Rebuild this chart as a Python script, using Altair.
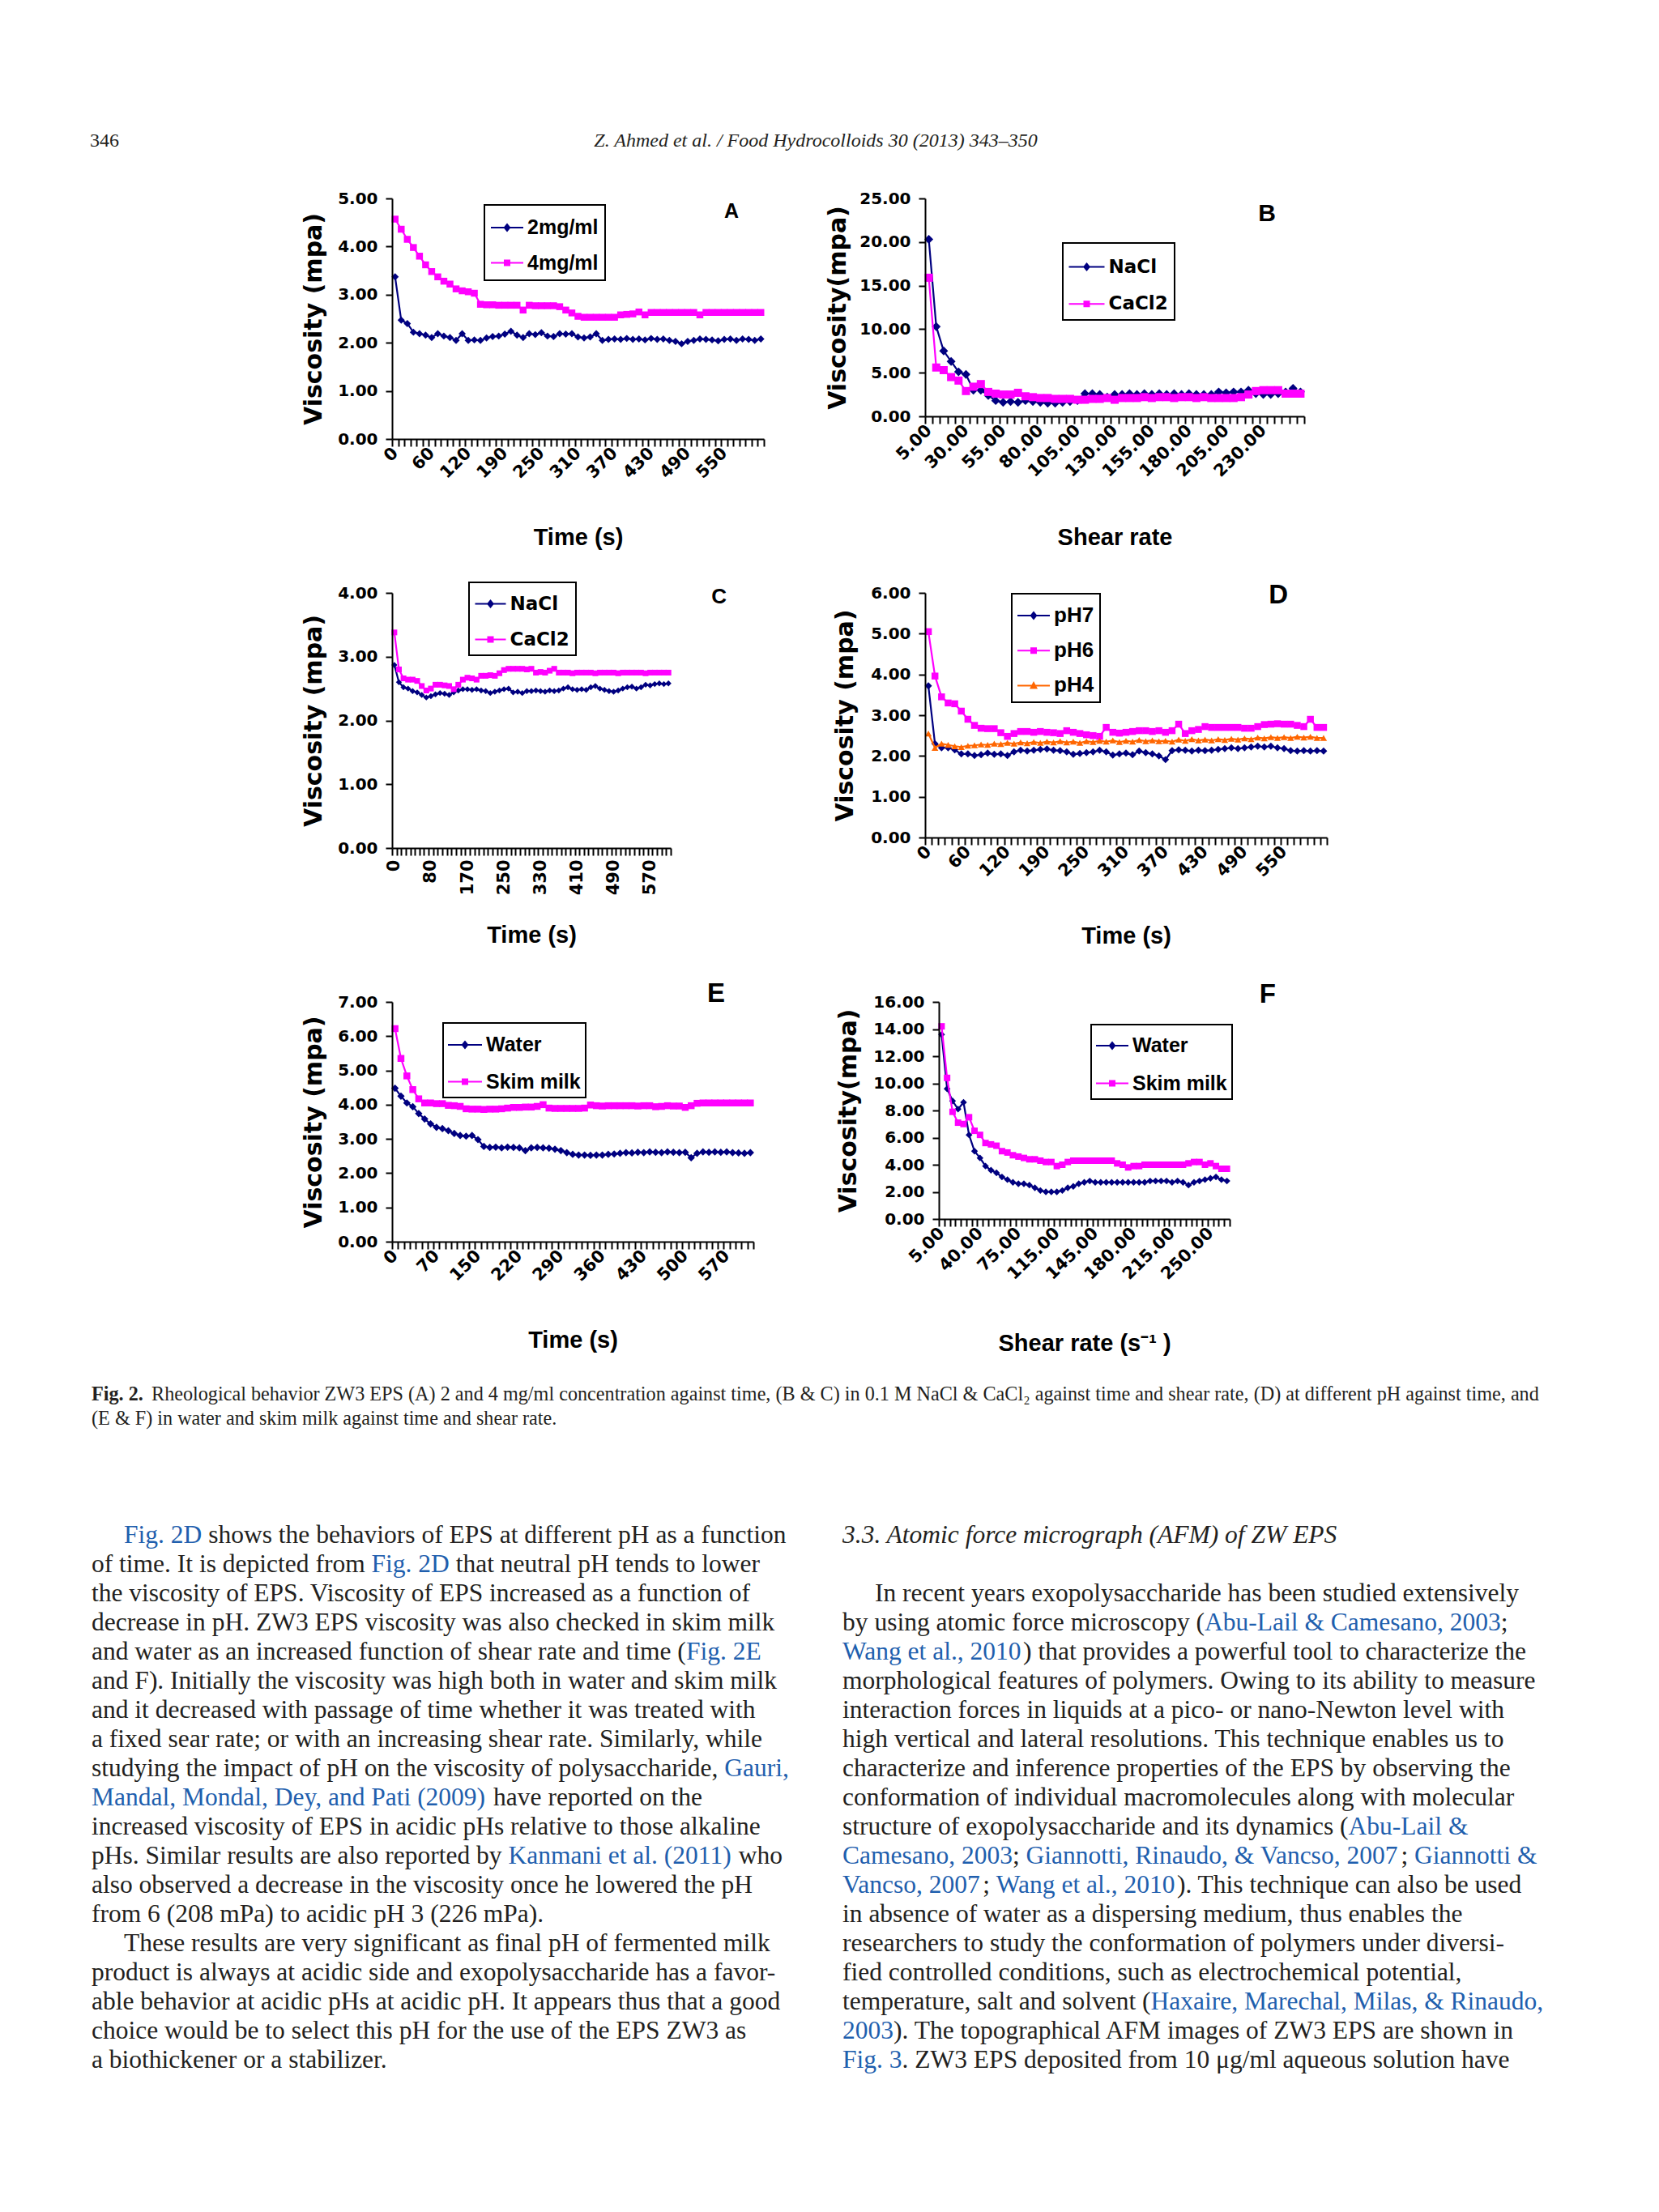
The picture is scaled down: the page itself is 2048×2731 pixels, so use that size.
import altair as alt
import pandas as pd

# ------------------------------------------------------------------ data
A_names = ['2mg/ml', '4mg/ml']
A_2mg = [3.37, 2.47, 2.40, 2.22, 2.19, 2.16, 2.11, 2.19, 2.14, 2.11,
         2.05, 2.19, 2.05, 2.06, 2.05, 2.10, 2.13, 2.14, 2.18, 2.24,
         2.16, 2.11, 2.19, 2.17, 2.21, 2.14, 2.13, 2.19, 2.18, 2.19,
         2.12, 2.10, 2.12, 2.19, 2.05, 2.07, 2.08, 2.07, 2.09, 2.07,
         2.08, 2.06, 2.09, 2.07, 2.08, 2.05, 2.03, 1.98, 2.03, 2.05,
         2.08, 2.07, 2.06, 2.04, 2.07, 2.08, 2.05, 2.08, 2.07, 2.05, 2.08]
A_4mg = [4.57, 4.36, 4.15, 3.98, 3.80, 3.62, 3.48, 3.37, 3.28, 3.22,
         3.12, 3.08, 3.06, 3.03, 2.80, 2.79, 2.79, 2.78, 2.78, 2.78,
         2.78, 2.68, 2.78, 2.77, 2.77, 2.77, 2.77, 2.75, 2.68, 2.62,
         2.55, 2.53, 2.53, 2.53, 2.53, 2.53, 2.53, 2.58, 2.59, 2.60,
         2.64, 2.58, 2.63, 2.63, 2.63, 2.63, 2.63, 2.63, 2.63, 2.63,
         2.58, 2.63, 2.63, 2.63, 2.63, 2.63, 2.63, 2.63, 2.63, 2.63, 2.63]
A_xlabels = ['0', '60', '120', '190', '250', '310', '370', '430', '490', '550']

B_names = ['NaCl', 'CaCl2']
B_nacl = [20.3, 10.3, 7.5, 6.3, 5.1, 4.8, 3.0, 3.0, 2.4, 1.8,
          1.6, 1.7, 1.6, 1.8, 1.7, 1.6, 1.5, 1.5, 1.6, 1.7,
          1.8, 2.6, 2.6, 2.5, 2.2, 2.5, 2.5, 2.6, 2.5, 2.6,
          2.5, 2.6, 2.5, 2.6, 2.5, 2.6, 2.5, 2.5, 2.5, 2.8,
          2.7, 2.8, 2.8, 3.0, 2.6, 2.5, 2.5, 2.6, 2.8, 3.2, 2.8]
B_cacl2 = [15.9, 5.6, 5.3, 4.5, 4.1, 2.9, 3.4, 3.7, 2.8, 2.6,
           2.5, 2.5, 2.7, 2.3, 2.2, 2.1, 2.1, 2.0, 2.0, 2.0,
           1.9, 1.9, 2.0, 2.0, 2.1, 1.9, 2.1, 2.1, 2.1, 2.2,
           2.1, 2.2, 2.2, 2.1, 2.2, 2.2, 2.1, 2.2, 2.1, 2.1,
           2.1, 2.1, 2.2, 2.5, 2.9, 3.0, 3.0, 3.0, 2.6, 2.6, 2.6]
B_xlabels = ['5.00', '30.00', '55.00', '80.00', '105.00', '130.00',
             '155.00', '180.00', '205.00', '230.00']

C_names = ['NaCl', 'CaCl2']
C_nacl = [2.87, 2.60, 2.52, 2.50, 2.46, 2.44, 2.40, 2.36, 2.38, 2.41,
          2.43, 2.42, 2.40, 2.44, 2.47, 2.49, 2.49, 2.48, 2.49, 2.47,
          2.46, 2.43, 2.45, 2.47, 2.49, 2.50, 2.44, 2.45, 2.43, 2.46,
          2.46, 2.47, 2.46, 2.45, 2.47, 2.46, 2.47, 2.50, 2.52, 2.49,
          2.48, 2.49, 2.48, 2.52, 2.54, 2.50, 2.48, 2.46, 2.45, 2.47,
          2.50, 2.52, 2.53, 2.50, 2.52, 2.56, 2.55, 2.57, 2.58, 2.57, 2.58]
C_cacl2 = [3.38, 2.80, 2.66, 2.64, 2.64, 2.62, 2.54, 2.47, 2.50, 2.56,
           2.56, 2.55, 2.54, 2.49, 2.56, 2.64, 2.67, 2.66, 2.64, 2.70,
           2.70, 2.71, 2.70, 2.74, 2.79, 2.81, 2.81, 2.81, 2.81, 2.80,
           2.81, 2.75, 2.76, 2.75, 2.78, 2.81, 2.75, 2.75, 2.75, 2.74,
           2.75, 2.75, 2.75, 2.75, 2.74, 2.75, 2.75, 2.75, 2.75, 2.74,
           2.75, 2.75, 2.75, 2.75, 2.75, 2.74, 2.75, 2.75, 2.75, 2.75, 2.75]
C_xlabels = ['0', '80', '170', '250', '330', '410', '490', '570']

D_names = ['pH7', 'pH6', 'pH4']
D_ph7 = [3.72, 2.30, 2.20, 2.20, 2.15, 2.05, 2.05, 2.01, 2.03, 2.07,
         2.04, 2.05, 2.01, 2.10, 2.14, 2.12, 2.14, 2.16, 2.17, 2.14,
         2.13, 2.10, 2.04, 2.06, 2.08, 2.10, 2.14, 2.10, 2.02, 2.05,
         2.07, 2.03, 2.12, 2.08, 2.05, 2.00, 1.91, 2.13, 2.15, 2.14,
         2.12, 2.14, 2.13, 2.14, 2.16, 2.18, 2.20, 2.18, 2.20, 2.22,
         2.24, 2.22, 2.24, 2.20, 2.18, 2.13, 2.12, 2.13, 2.12, 2.13, 2.12]
D_ph6 = [5.05, 3.96, 3.45, 3.30, 3.28, 3.10, 2.90, 2.75, 2.68, 2.67,
         2.67, 2.57, 2.48, 2.55, 2.60, 2.60, 2.58, 2.60, 2.58, 2.57,
         2.55, 2.62, 2.58, 2.55, 2.52, 2.50, 2.48, 2.70, 2.58, 2.56,
         2.58, 2.60, 2.62, 2.62, 2.60, 2.62, 2.58, 2.62, 2.78, 2.55,
         2.62, 2.65, 2.72, 2.70, 2.70, 2.70, 2.70, 2.70, 2.68, 2.68,
         2.72, 2.77, 2.78, 2.79, 2.78, 2.78, 2.75, 2.72, 2.90, 2.70, 2.70]
D_ph4 = [2.55, 2.20, 2.30, 2.27, 2.24, 2.22, 2.25, 2.26, 2.28, 2.27,
         2.30, 2.29, 2.32, 2.30, 2.33, 2.31, 2.34, 2.32, 2.35, 2.33,
         2.36, 2.33, 2.35, 2.32, 2.36, 2.34, 2.37, 2.35, 2.38, 2.34,
         2.37, 2.35, 2.39, 2.36, 2.38, 2.36, 2.37, 2.35, 2.40, 2.37,
         2.41, 2.38, 2.40, 2.38, 2.41, 2.39, 2.42, 2.40, 2.43, 2.41,
         2.45, 2.43, 2.46, 2.44, 2.46, 2.44, 2.47, 2.45, 2.47, 2.44, 2.44]
D_xlabels = ['0', '60', '120', '190', '250', '310', '370', '430', '490', '550']

E_names = ['Water', 'Skim milk']
E_water = [4.48, 4.25, 4.05, 3.94, 3.74, 3.58, 3.44, 3.34, 3.30, 3.24,
           3.16, 3.10, 3.08, 3.10, 2.98, 2.78, 2.75, 2.76, 2.74, 2.76,
           2.75, 2.74, 2.66, 2.74, 2.75, 2.74, 2.73, 2.70, 2.66, 2.60,
           2.55, 2.53, 2.53, 2.52, 2.53, 2.53, 2.55, 2.56, 2.58, 2.60,
           2.59, 2.61, 2.60, 2.62, 2.61, 2.60, 2.62, 2.61, 2.60, 2.61,
           2.45, 2.58, 2.62, 2.61, 2.62, 2.61, 2.62, 2.60, 2.59, 2.58, 2.60]
E_skim = [6.22, 5.35, 4.84, 4.44, 4.17, 4.05, 4.05, 4.03, 4.03, 3.98,
          3.97, 3.95, 3.88, 3.87, 3.87, 3.86, 3.87, 3.87, 3.88, 3.90,
          3.92, 3.92, 3.93, 3.93, 3.95, 4.00, 3.90, 3.89, 3.89, 3.89,
          3.89, 3.89, 3.90, 3.99, 3.97, 3.96, 3.97, 3.97, 3.97, 3.97,
          3.97, 3.96, 3.97, 3.97, 3.94, 3.95, 3.97, 3.96, 3.96, 3.92,
          3.97, 4.04, 4.05, 4.05, 4.05, 4.05, 4.05, 4.05, 4.05, 4.05, 4.05]
E_xlabels = ['0', '70', '150', '220', '290', '360', '430', '500', '570']

F_names = ['Water', 'Skim milk']
F_water = [13.6, 9.6, 8.7, 8.1, 8.6, 6.2, 5.0, 4.5, 3.9, 3.6,
           3.4, 3.1, 2.9, 2.7, 2.6, 2.6, 2.5, 2.3, 2.1, 2.0,
           2.0, 2.0, 2.1, 2.3, 2.4, 2.6, 2.7, 2.8, 2.7, 2.7,
           2.7, 2.7, 2.7, 2.7, 2.7, 2.7, 2.7, 2.7, 2.8, 2.8,
           2.8, 2.8, 2.7, 2.8, 2.7, 2.5, 2.7, 2.8, 2.9, 3.0,
           3.1, 2.9, 2.8]
F_skim = [14.2, 10.4, 7.9, 7.1, 7.0, 7.5, 6.5, 6.2, 5.6, 5.5,
          5.4, 5.0, 4.9, 4.7, 4.6, 4.5, 4.4, 4.4, 4.3, 4.2,
          4.2, 3.9, 4.0, 4.2, 4.3, 4.3, 4.3, 4.3, 4.3, 4.3,
          4.3, 4.3, 4.1, 4.0, 3.8, 3.9, 3.9, 4.0, 4.0, 4.0,
          4.0, 4.0, 4.0, 4.0, 4.0, 4.1, 4.2, 4.2, 4.0, 4.1,
          3.9, 3.7, 3.7]
F_xlabels = ['5.00', '40.00', '75.00', '115.00', '145.00', '180.00', '215.00', '250.00']

HEADER_PAGE = '346'
HEADER_TITLE = 'Z. Ahmed et al. / Food Hydrocolloids 30 (2013) 343\u2013350'
CAPTION_LABEL = 'Fig. 2.'
CAPTION_LINE1 = ('Rheological behavior ZW3 EPS (A) 2 and 4 mg/ml concentration against time, '
                 '(B & C) in 0.1 M NaCl & CaCl\u2082 against time and shear rate, (D) at different pH against time, and')
CAPTION_LINE2 = '(E & F) in water and skim milk against time and shear rate.'
BODY_LEFT = [
    'Fig. 2D shows the behaviors of EPS at different pH as a function',
    'of time. It is depicted from Fig. 2D that neutral pH tends to lower',
    'the viscosity of EPS. Viscosity of EPS increased as a function of',
    'decrease in pH. ZW3 EPS viscosity was also checked in skim milk',
    'and water as an increased function of shear rate and time (Fig. 2E',
    'and F). Initially the viscosity was high both in water and skim milk',
    'and it decreased with passage of time whether it was treated with',
    'a fixed sear rate; or with an increasing shear rate. Similarly, while',
    'studying the impact of pH on the viscosity of polysaccharide, Gauri,',
    'Mandal, Mondal, Dey, and Pati (2009) have reported on the',
    'increased viscosity of EPS in acidic pHs relative to those alkaline',
    'pHs. Similar results are also reported by Kanmani et al. (2011) who',
    'also observed a decrease in the viscosity once he lowered the pH',
    'from 6 (208 mPa) to acidic pH 3 (226 mPa).',
    'These results are very significant as final pH of fermented milk',
    'product is always at acidic side and exopolysaccharide has a favor-',
    'able behavior at acidic pHs at acidic pH. It appears thus that a good',
    'choice would be to select this pH for the use of the EPS ZW3 as',
    'a biothickener or a stabilizer.',
]
BODY_RIGHT_HEADING = '3.3. Atomic force micrograph (AFM) of ZW EPS'
BODY_RIGHT = [
    'In recent years exopolysaccharide has been studied extensively',
    'by using atomic force microscopy (Abu-Lail & Camesano, 2003;',
    'Wang et al., 2010) that provides a powerful tool to characterize the',
    'morphological features of polymers. Owing to its ability to measure',
    'interaction forces in liquids at a pico- or nano-Newton level with',
    'high vertical and lateral resolutions. This technique enables us to',
    'characterize and inference properties of the EPS by observing the',
    'conformation of individual macromolecules along with molecular',
    'structure of exopolysaccharide and its dynamics (Abu-Lail &',
    'Camesano, 2003; Giannotti, Rinaudo, & Vancso, 2007; Giannotti &',
    'Vancso, 2007; Wang et al., 2010). This technique can also be used',
    'in absence of water as a dispersing medium, thus enables the',
    'researchers to study the conformation of polymers under diversi-',
    'fied controlled conditions, such as electrochemical potential,',
    'temperature, salt and solvent (Haxaire, Marechal, Milas, & Rinaudo,',
    '2003). The topographical AFM images of ZW3 EPS are shown in',
    'Fig. 3. ZW3 EPS deposited from 10 \u03bcg/ml aqueous solution have',
]
# cross-reference links shown in blue: (column, line index, linked words)
LINKS = [
    ('L', 0, 'Fig. 2D'), ('L', 1, 'Fig. 2D'), ('L', 4, 'Fig. 2E'), ('L', 8, 'Gauri,'),
    ('L', 9, 'Mandal, Mondal, Dey, and Pati (2009)'), ('L', 11, 'Kanmani et al. (2011)'),
    ('R', 1, 'Abu-Lail & Camesano, 2003'), ('R', 2, 'Wang et al., 2010'), ('R', 8, 'Abu-Lail &'),
    ('R', 9, 'Camesano, 2003'), ('R', 9, 'Giannotti, Rinaudo, & Vancso, 2007'), ('R', 9, 'Giannotti &'),
    ('R', 10, 'Vancso, 2007'), ('R', 10, 'Wang et al., 2010'),
    ('R', 14, 'Haxaire, Marechal, Milas, & Rinaudo,'), ('R', 15, '2003'), ('R', 16, 'Fig. 3'),
]

# ------------------------------------------------------------------ styling
NAVY = '#000080'
MAG = '#FF00FF'
ORG = '#FF6600'
TXT = '#231f20'
LINKC = '#1f5fae'
ONE = pd.DataFrame({'k': [0]})
AX = dict(domainColor='black', domainWidth=2, tickColor='black', labelColor='black',
          titleColor='black', grid=False, zindex=1, labelFlush=False, labelOverlap=False)

# advance widths (1/1000 em) of the Times-metric serif used for the body text
_W = {' ': 250, '!': 333, '&': 778, "'": 180, '(': 333, ')': 333, ',': 250, '-': 333, '.': 250,
      '/': 278, ':': 278, ';': 278, '?': 444, '\u03bc': 500}
_W.update({c: 500 for c in '0123456789'})
_W.update(dict(zip('abcdefghijklmnopqrstuvwxyz',
                   [444, 500, 444, 500, 444, 333, 500, 500, 278, 278, 500, 278, 778, 500, 500, 500,
                    500, 333, 389, 278, 500, 500, 722, 500, 500, 444])))
_W.update(dict(zip('ABCDEFGHIJKLMNOPQRSTUVWXYZ',
                   [722, 667, 667, 722, 611, 556, 722, 722, 333, 389, 722, 611, 889, 722, 722, 556,
                    722, 667, 556, 611, 722, 722, 944, 722, 722, 611])))


def sym_path(kind, w):
    k = 2.0 / w

    def u(v):
        return f'{v * k:.4f}'
    line = f'M-1,{u(-1)}H1V{u(1)}H-1Z'
    if kind == 'diamond':
        m = f'M0,{u(-5.5)}L{u(4.5)},0L0,{u(5.5)}L{u(-4.5)},0Z'
    elif kind == 'square':
        m = f'M{u(-4)},{u(-4)}H{u(4)}V{u(4)}H{u(-4)}Z'
    else:
        m = f'M0,{u(-5.5)}L{u(5)},{u(4)}H{u(-5)}Z'
    return line + m


SHAPE = {'diamond': 'diamond', 'square': 'square', 'triangle': 'triangle-up'}


def panel(c, first=(), last=()):
    names, vals, N, W, H = c['names'], c['values'], c['N'], c['w'], c['h']
    rows = [{'i': i, 'v': v, 's': n} for n, vs in zip(names, vals) for i, v in enumerate(vs)]
    base = alt.Chart(pd.DataFrame(rows)).transform_calculate(xc='datum.i + 0.5')
    step, labs = c['step'], c['xlabels']
    arr = '[' + ','.join(f"'{l}'" for l in labs) + ']'
    expr = (f"(datum.value % {step} == 0 && datum.value / {step} < {len(labs)}) "
            f"? {arr}[datum.value / {step}] : ''")
    xoff = c.get('xoff', 0)
    cat_w = (W - xoff) / N
    x = alt.X('xc:Q', scale=alt.Scale(domain=[0, N], range=[xoff, W], nice=False, zero=False),
              axis=alt.Axis(values=list(range(N + 1)), labelExpr=expr, labelAngle=c['angle'],
                            labelAlign='right', labelBaseline='middle', labelOffset=cat_w / 2,
                            labelPadding=5, labelFont='DejaVu Sans', labelFontWeight='bold',
                            labelFontSize=21, tickSize=9, tickWidth=2,
                            title=c['xtitle'], titleFont='Liberation Sans', titleFontWeight='bold',
                            titleFontSize=29, titleY=c['xty'], titleBaseline='middle', **AX))
    nt = int(round(c['ymax'] / c['ystep']))
    yvals = [round(k * c['ystep'], 6) for k in range(nt + 1)]
    y = alt.Y('v:Q', scale=alt.Scale(domain=[0, c['ymax']], nice=False, zero=True),
              axis=alt.Axis(values=yvals, format='.2f', labelFont='DejaVu Sans', labelFontWeight='bold',
                            labelFontSize=20, labelPadding=10, tickSize=8, tickWidth=2,
                            title=c['ytitle'], titleFont='DejaVu Sans', titleFontWeight='bold',
                            titleFontSize=30, titleX=c['ytx'], titleBaseline='middle', titleAngle=270,
                            offset=-xoff, **AX))
    layers = list(first)
    for n, col, kind, ms in zip(names, c['colors'], c['kinds'], c['msizes']):
        sub = base.transform_filter(alt.datum.s == n)
        layers.append(sub.mark_line(color=col, strokeWidth=2.2).encode(x=x, y=y))
        layers.append(sub.mark_point(shape=SHAPE[kind], filled=True, size=ms, color=col,
                                     opacity=1).encode(x=x, y=y))
    lw = c['lw']
    paths = [sym_path(k, lw) for k in c['kinds']]
    L = alt.Legend(orient='none', legendX=c['lx'], legendY=c['ly'], title=None,
                   strokeColor='black', fillColor='white', padding=c['lpad'],
                   rowPadding=c['lrow'], symbolSize=lw * lw, symbolStrokeWidth=0,
                   labelFont=c['lfont'], labelFontSize=c['lfs'], labelFontWeight='bold',
                   labelColor='black', labelOffset=5, labelLimit=c.get('llim', 400))
    layers.append(base.transform_filter('false').mark_point(filled=True, size=lw * lw, opacity=1).encode(
        x=x, y=y,
        color=alt.Color('s:N', scale=alt.Scale(domain=names, range=c['colors']), legend=L),
        shape=alt.Shape('s:N', scale=alt.Scale(domain=names, range=paths), legend=L)))
    layers.append(alt.Chart(ONE).mark_text(
        text=c['letter'], align='right', baseline='alphabetic', font='Liberation Sans',
        fontWeight='bold', fontSize=c['letsize'], color='black').encode(
        x=alt.value(c['letx']), y=alt.value(c['lety'])))
    layers += list(last)
    return alt.layer(*layers).properties(width=W, height=H)


def text_mark(txt, x, y, size, style='normal', weight='normal', lh=None, align='left', color=TXT):
    kw = dict(text=txt, align=align, baseline='alphabetic', font='Liberation Serif',
              fontSize=size, fontStyle=style, fontWeight=weight, color=color)
    if lh:
        kw['lineHeight'] = lh
    return alt.Chart(ONE).mark_text(**kw).encode(x=alt.value(x), y=alt.value(y))


# page furniture, positioned relative to panel A's plot origin (page 484, 245)
bg = alt.Chart(ONE).mark_rect(color='white').encode(
    x=alt.value(-476), x2=alt.value(1548), y=alt.value(-237), y2=alt.value(2478))
LH = 35.99
B0 = 1660
BF = 31.5
CF = 24.2


def tw(s):
    return sum(_W.get(ch, 500) for ch in s) * BF / 1000.0


page_text = [
    text_mark(HEADER_PAGE, -373, -64, 24),
    text_mark(HEADER_TITLE, 523, -64, 24, style='italic', align='center'),
    text_mark(CAPTION_LABEL, -371, 1484, CF, weight='bold'),
    text_mark(CAPTION_LINE1, -297, 1484, CF),
    text_mark(CAPTION_LINE2, -371, 1514, CF),
    text_mark(BODY_RIGHT_HEADING, 556, B0, BF, style='italic'),
]


def body_line(col, idx, text):
    if col == 'L':
        x0, y0 = (-331 if idx in (0, 14) else -371), B0 + idx * LH
    else:
        x0, y0 = (596 if idx == 0 else 556), B0 + (idx + 2) * LH
    spans = sorted((text.find(w), text.find(w) + len(w)) for c_, i_, w in LINKS
                   if c_ == col and i_ == idx)
    cuts, pos = [], 0
    for a, b in spans:
        if a > pos:
            cuts.append((pos, a, TXT))
        cuts.append((a, b, LINKC))
        pos = b
    if pos < len(text):
        cuts.append((pos, len(text), TXT))
    out = []
    for a, b, color in cuts:
        seg = text[a:b]
        a2 = a + (len(seg) - len(seg.lstrip()))
        piece = text[a2:b].rstrip()
        if piece:
            out.append(text_mark(piece, x0 + tw(text[:a2]), y0, BF, color=color))
    return out


for i_, t_ in enumerate(BODY_LEFT):
    page_text += body_line('L', i_, t_)
for i_, t_ in enumerate(BODY_RIGHT):
    page_text += body_line('R', i_, t_)

cfgA = dict(names=A_names, values=[A_2mg, A_4mg], N=61, w=459, h=297, step=6, xlabels=A_xlabels,
            angle=315, xtitle='Time (s)', xty=121, ymax=5, ystep=1, ytitle='Viscosity (mpa)', ytx=-97,
            colors=[NAVY, MAG], kinds=['diamond', 'square'], msizes=[80, 72],
            lw=40, lx=114, ly=8, lpad=8, lrow=10.5, lfont='Liberation Sans', lfs=25,
            letter='A', letx=428, lety=24, letsize=25)
cfgB = dict(names=B_names, values=[B_nacl, B_cacl2], N=51, w=468, h=269, step=5, xlabels=B_xlabels,
            angle=315, xtitle='Shear rate', xty=149, ymax=25, ystep=5, ytitle='Viscosity(mpa)', ytx=-108,
            colors=[NAVY, MAG], kinds=['diamond', 'square'], msizes=[120, 100],
            lw=44, lx=170, ly=55, lpad=7.5, lrow=11.8, lfont='DejaVu Sans', lfs=23,
            letter='B', letx=433, lety=28, letsize=30)
cfgC = dict(names=C_names, values=[C_nacl, C_cacl2], N=61, w=344, h=315, step=8, xlabels=C_xlabels,
            angle=270, xtitle='Time (s)', xty=107, ymax=4, ystep=1, ytitle='Viscosity (mpa)', ytx=-97,
            colors=[NAVY, MAG], kinds=['diamond', 'square'], msizes=[55, 50],
            lw=38, lx=95, ly=-13, lpad=7.5, lrow=13, lfont='DejaVu Sans', lfs=23,
            letter='C', letx=413, lety=13, letsize=26)
cfgD = dict(names=D_names, values=[D_ph7, D_ph6, D_ph4], N=61, w=496, h=302, step=6, xlabels=D_xlabels,
            angle=315, xtitle='Time (s)', xty=121, ymax=6, ystep=1, ytitle='Viscosity (mpa)', ytx=-99,
            colors=[NAVY, MAG, ORG], kinds=['diamond', 'square', 'triangle'], msizes=[80, 72, 70],
            lw=40, lx=107, ly=1, lpad=7, lrow=10.2, lfont='Liberation Sans', lfs=26, llim=52,
            letter='D', letx=448, lety=13, letsize=33)
cfgE = dict(names=E_names, values=[E_water, E_skim], N=61, w=446, h=296, step=7, xlabels=E_xlabels,
            angle=315, xtitle='Time (s)', xty=121, ymax=7, ystep=1, ytitle='Viscosity (mpa)', ytx=-97,
            colors=[NAVY, MAG], kinds=['diamond', 'square'], msizes=[85, 72],
            lw=42, lx=63, ly=26, lpad=6, lrow=11.5, lfont='Liberation Sans', lfs=25,
            letter='E', letx=411, lety=0, letsize=33)
cfgF = dict(names=F_names, values=[F_water, F_skim], N=53, w=376, xoff=17, h=268, step=7, xlabels=F_xlabels,
            angle=315, xtitle='Shear rate (s\u207b\u00b9 )', xty=153, ymax=16, ystep=2, ytitle='Viscosity(mpa)',
            ytx=-112, colors=[NAVY, MAG], kinds=['diamond', 'square'], msizes=[70, 64],
            lw=40, lx=205, ly=28, lpad=6, lrow=13.5, lfont='Liberation Sans', lfs=25,
            letter='F', letx=433, lety=1, letsize=33)

pA = panel(cfgA, first=[bg], last=page_text)
pB = panel(cfgB)
pC = panel(cfgC)
pD = panel(cfgD)
pE = panel(cfgE)
pF = panel(cfgF)

chart = alt.concat(pA, pB, pC, pD, pE, pF, columns=2, spacing={'row': 190, 'column': 199},
                   bounds='flush', align='each').resolve_scale(
    color='independent', shape='independent').properties(padding=0).configure(
    background='white').configure_view(strokeWidth=0).configure_legend(strokeWidth=2)

chart.save('out.html', embed_options={'renderer': 'svg', 'actions': False})
